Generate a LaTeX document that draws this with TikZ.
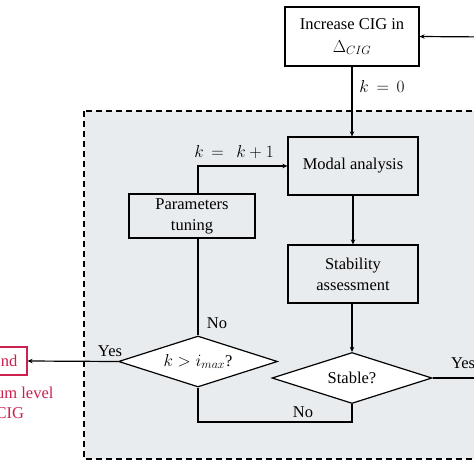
\documentclass[tikz,border=0pt]{standalone}
\usepackage{fontspec}
\setmainfont{Liberation Serif}
\usetikzlibrary{shapes.geometric,arrows.meta}
\definecolor{bggray}{RGB}{233,236,238}
\definecolor{endred}{RGB}{204,32,78}
\tikzset{
  boxnode/.style={draw,line width=1.2pt,rectangle,inner sep=0pt,align=center,font=\fontsize{16.5}{24}\selectfont},
  decision/.style={draw,line width=1.2pt,diamond,fill=white,inner sep=0pt,aspect=3,font=\fontsize{16.5}{20}\selectfont},
  lbl/.style={font=\fontsize{16.5}{20}\selectfont,inner sep=0pt},
  conn/.style={line width=1.2pt},
  arr/.style={line width=1.2pt,-{Stealth[length=5pt,width=4.5pt]}},
}
\begin{document}
\begin{tikzpicture}[x=1pt,y=-1pt]
\useasboundingbox (0,0) rectangle (474,474);
\clip (0,0) rectangle (474,474);
\fill[white] (0,0) rectangle (474,474);
% dashed region
\draw[fill=bggray,line width=1.2pt,dash pattern=on 6pt off 4pt] (84,111) rectangle (490,459);
% nodes
\node[boxnode,fill=white,minimum width=134pt,minimum height=59pt] (inc) at (352,36.5) {Increase CIG in\\[-1pt]$\Delta_{CIG}$};
\node[boxnode,minimum width=130pt,minimum height=58pt] (modal) at (353,166) {Modal analysis};
\node[boxnode,minimum width=126pt,minimum height=44pt,font=\fontsize{16.5}{21}\selectfont] (params) at (192,216) {Parameters\\tuning};
\node[boxnode,minimum width=130pt,minimum height=58pt,font=\fontsize{16.5}{21}\selectfont] (stab) at (353,274) {Stability\\assessment};
\node[decision,minimum width=160pt,minimum height=51pt] (stable) at (352,378) {Stable?};
\node[decision,minimum width=159pt,minimum height=51pt] (kdia) at (198,361.5) {$k>i_{max}$?};
\node[boxnode,draw=endred,text=endred,minimum width=46pt,minimum height=28pt] (end) at (4,361) {End};
\node[lbl,text=endred,align=center,font=\fontsize{16.5}{20}\selectfont] (maxtxt) at (1,403) {Maximum level\\of CIG};
% outside right coordinates
\coordinate (rin) at (490,37);
\coordinate (rout) at (490,378);
\coordinate (loop) at (352,422);
% connectors
\draw[arr] (rin) -- (inc.east);
\draw[arr] (inc.south) -- (inc.south |- modal.north);
\draw[arr] (modal.south -| stab.north) -- (stab.north);
\draw[arr] (stab.south -| stable.north) -- (stable.north);
\draw[conn] (stable.east) -- (rout);
\draw[conn] (stable.south) -- (loop) -| (kdia.south);
\draw[conn] (kdia.north) -- (kdia.north |- params.south);
\draw[arr] (kdia.north |- params.north) |- (modal.west);
\draw[arr] (kdia.west) -- (end.east);
% labels
\node[lbl] (k0) at (382,86) {$k\,=\,0$};
\node[lbl] (kk) at (234,152) {$k\,=\;\,k+1$};
\node[lbl] (no1) at (217,323) {No};
\node[lbl] (yes1) at (110,351) {Yes};
\node[lbl] (yes2) at (463,363) {Yes};
\node[lbl] (no2) at (303,412) {No};
\end{tikzpicture}
\end{document}
